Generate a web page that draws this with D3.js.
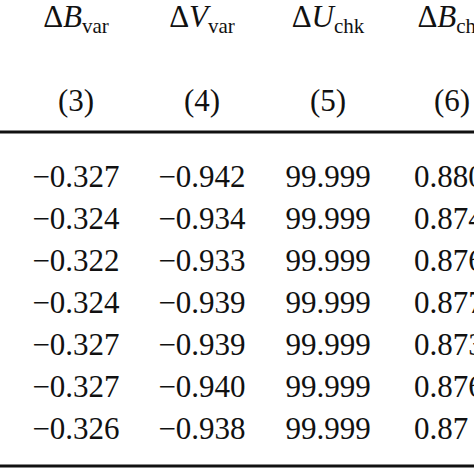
<!DOCTYPE html>
<html><head><meta charset="utf-8">
<script src="https://cdn.jsdelivr.net/npm/d3@7"></script>
<style>body{margin:0;background:#fff}</style>
</head><body><div id="plot"></div>
<script>
// table columns and values
var symbols = ['B','V','U','B'];
var subs = ['var','var','chk','chk'];
var colNums = ['(3)','(4)','(5)','(6)'];
var col3 = ['\u22120.327','\u22120.324','\u22120.322','\u22120.324','\u22120.327','\u22120.327','\u22120.326'];
var col4 = ['\u22120.942','\u22120.934','\u22120.933','\u22120.939','\u22120.939','\u22120.940','\u22120.938'];
var col5 = ['99.999','99.999','99.999','99.999','99.999','99.999','99.999'];
var col6 = ['0.880','0.874','0.876','0.877','0.873','0.876','0.87'];

var width = 474, height = 474;
var font = "'Liberation Serif','Times New Roman','DejaVu Serif',serif";
var svg = d3.select('#plot').append('svg').attr('width',width).attr('height',height)
	.attr('font-family',font).attr('fill','#111');

var x = d3.scaleOrdinal().domain([0,1,2,3]).range([76,202,328,452]);
var y = d3.scaleLinear().domain([0,6]).range([187,439]);

// header
var head = svg.append('g');
symbols.forEach(function(s,i){
	var t = head.append('text').attr('x',x(i)).attr('y',27).attr('text-anchor','middle').attr('font-family',font).attr('font-size',31);
	t.append('tspan').text('\u0394');
	t.append('tspan').attr('font-style','italic').text(s);
	t.append('tspan').attr('dy',6).attr('font-size',21).text(subs[i]);
	head.append('text').attr('x',x(i)).attr('y',111).attr('text-anchor','middle').attr('font-family',font).attr('font-size',31).text(colNums[i]);
});

svg.append('line').attr('x1',0).attr('x2',width).attr('y1',132).attr('y2',132).attr('stroke','#111').attr('stroke-width',3);
svg.append('line').attr('x1',0).attr('x2',width).attr('y1',466).attr('y2',466).attr('stroke','#111').attr('stroke-width',3);

[col3,col4,col5,col6].forEach(function(col,i){
	svg.selectAll('.c'+i).data(col).enter().append('text')
		.attr('x',i==3 ? 414 : x(i))
		.attr('y',function(d,j){return y(j);})
		.attr('text-anchor',i==3 ? 'start' : 'middle')
		.attr('font-family',font)
		.attr('font-size',31)
		.text(function(d){return d;});
});
</script></body></html>
